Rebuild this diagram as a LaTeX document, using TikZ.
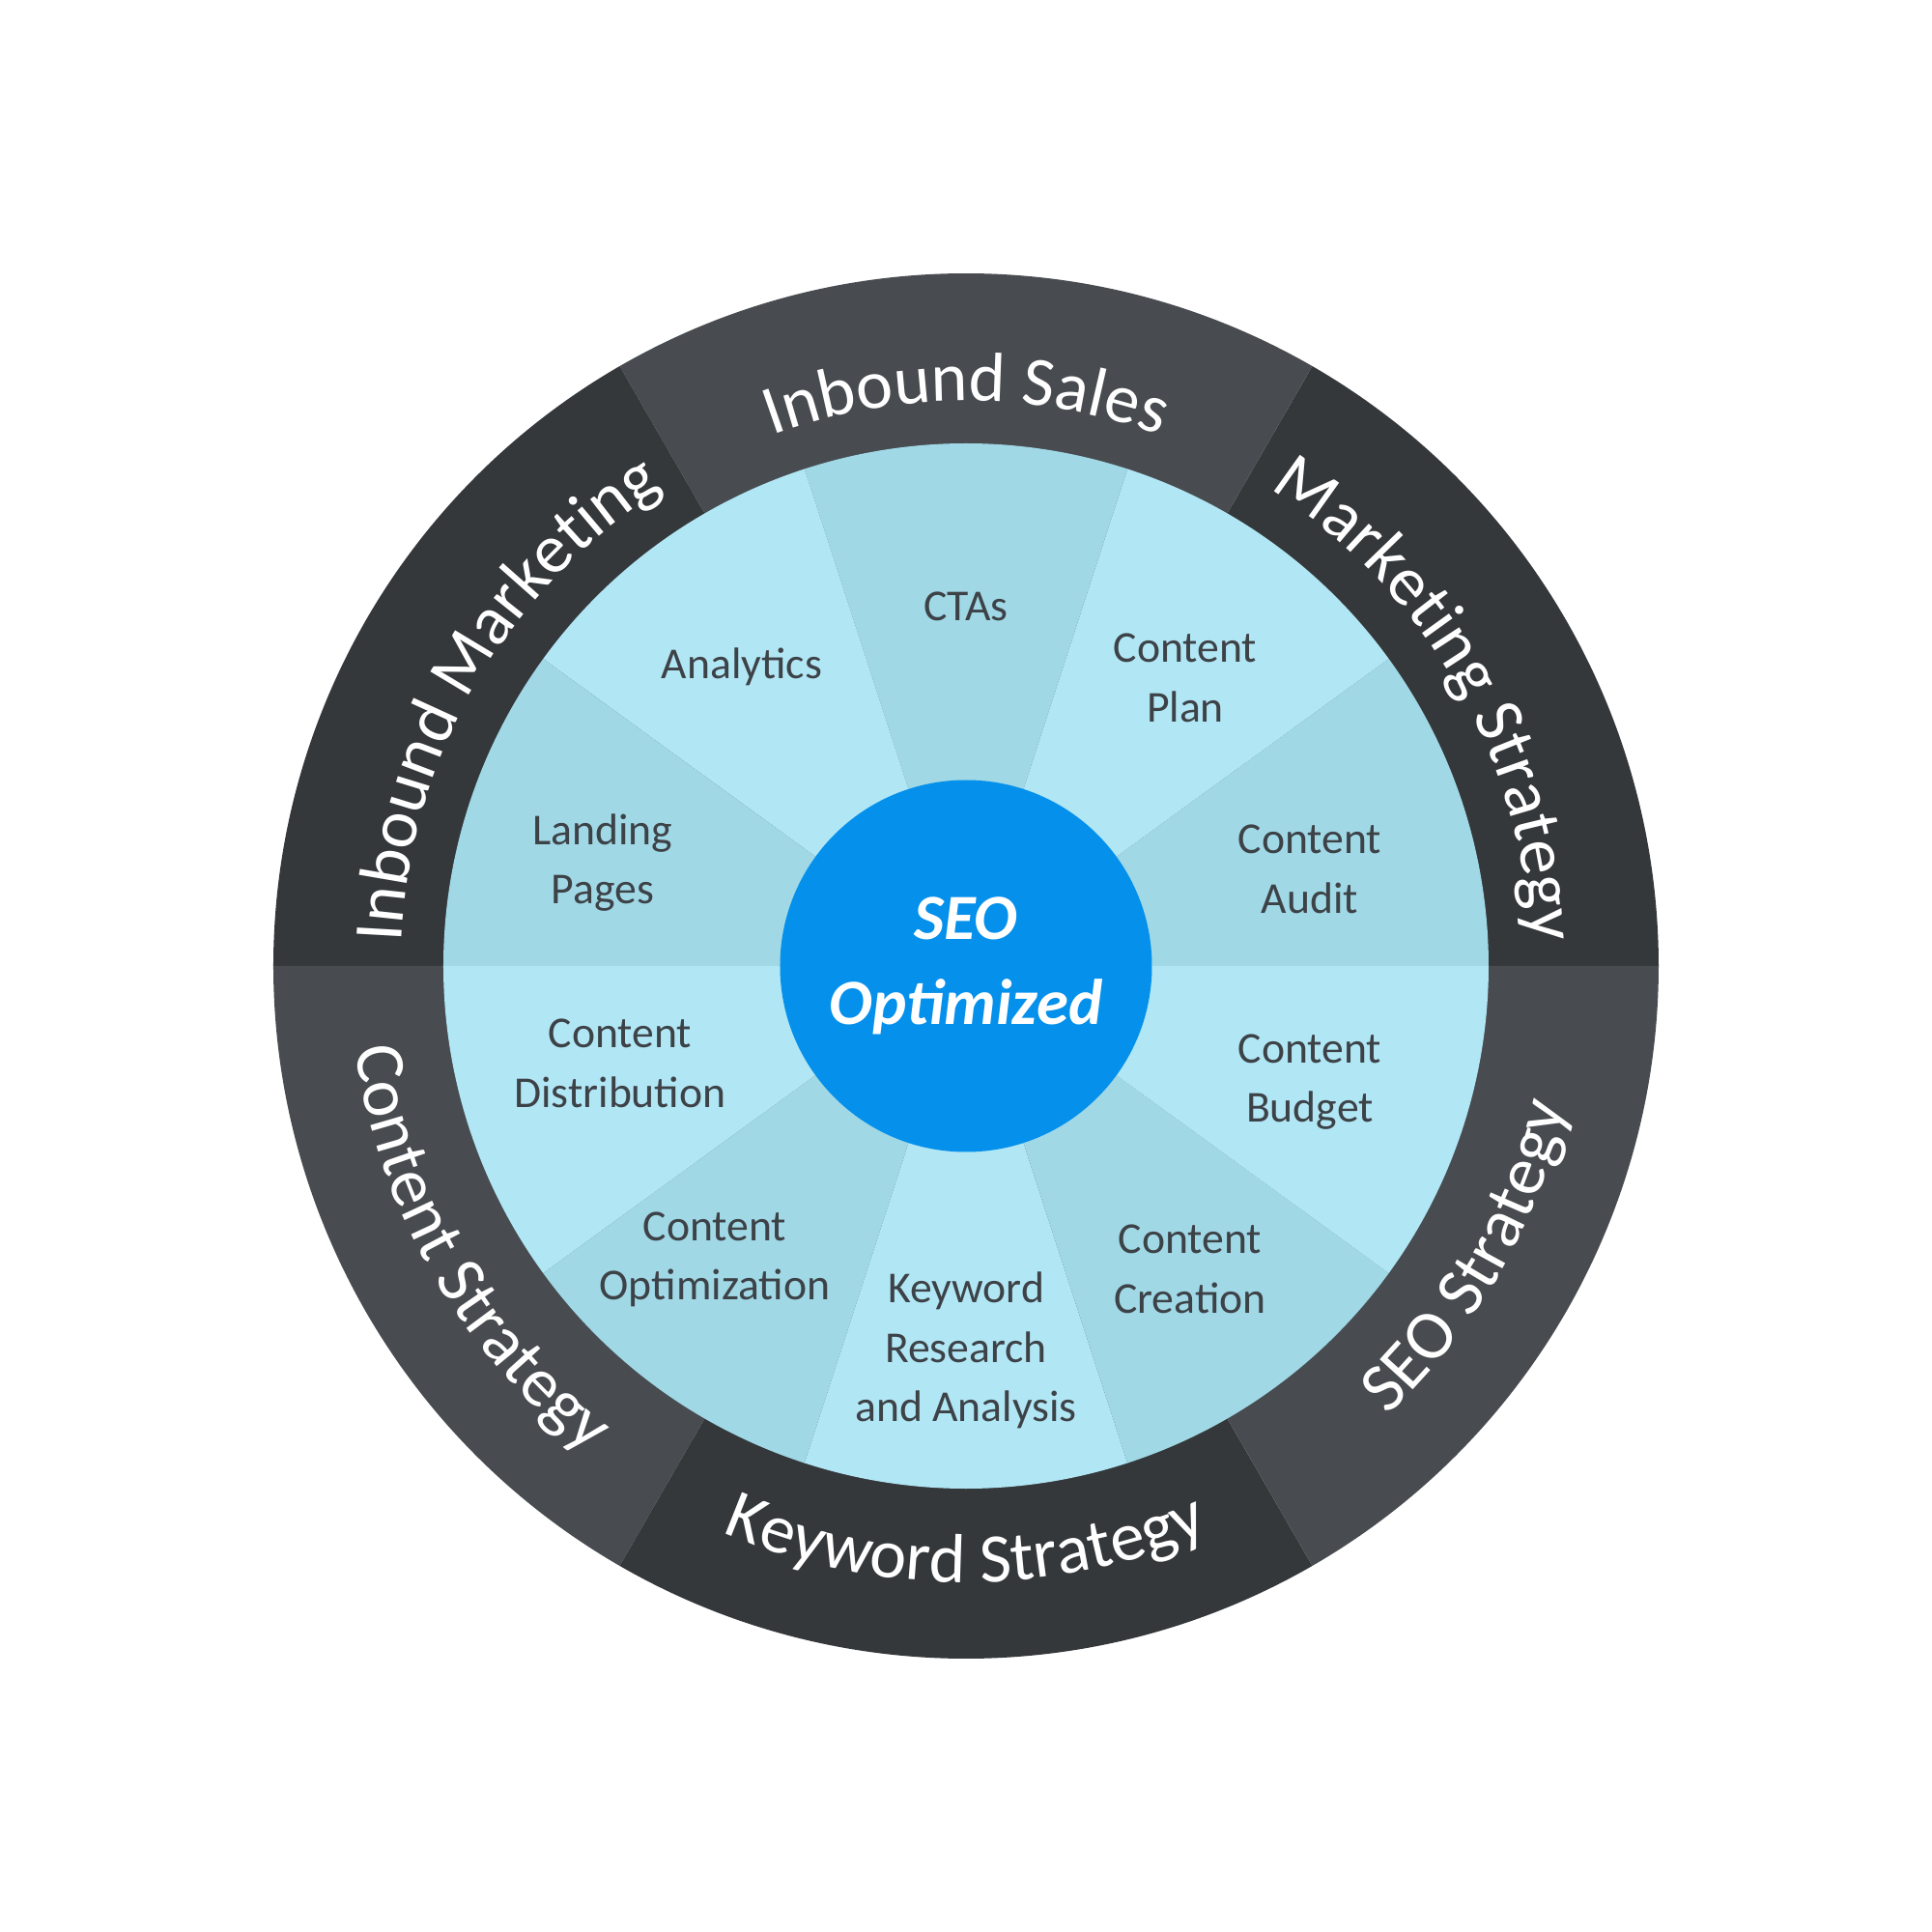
\documentclass[tikz,border=0pt]{standalone}
\usepackage{fontspec}
\setmainfont{Carlito}
\usetikzlibrary{decorations.text}

\definecolor{ringdark}{HTML}{35383B}
\definecolor{ringmid}{HTML}{484C50}
\definecolor{wedgelight}{HTML}{B1E6F5}
\definecolor{wedgedark}{HTML}{A0D8E6}
\definecolor{hub}{HTML}{0590EB}
\definecolor{labeltext}{HTML}{3D4247}

\tikzset{
  wedge/.style = {text=labeltext, align=center, font=\fontsize{13}{17.5}\selectfont},
  ringtext/.style = {decorate, decoration={text along path, text align=center,
      text={|\fontsize{20.5}{24}\selectfont\color{white}|#1}}}
}

\begin{document}
\begin{tikzpicture}
  \useasboundingbox (-10,-10) rectangle (10,10);
  % outer ring
  \foreach \a/\c in {0/ringdark, 60/ringmid, 120/ringdark, 180/ringmid, 240/ringdark, 300/ringmid}
    \fill[\c] (0,0) -- (\a:7.17) arc[start angle=\a, delta angle=60, radius=7.17] -- cycle;
  % inner wedges
  \foreach \i in {0,...,9} {
    \pgfmathsetmacro{\a}{36*\i}
    \pgfmathparse{int(mod(\i,2))}
    \ifnum\pgfmathresult=0 \def\c{wedgedark}\else\def\c{wedgelight}\fi
    \fill[\c] (0,0) -- (\a:5.41) arc[start angle=\a, delta angle=36, radius=5.41] -- cycle;
  }
  % hub
  \node[circle, fill=hub, minimum size=3.85cm, text=white, align=center,
        font=\fontsize{19}{25}\selectfont\bfseries\itshape] (seo) at (0,0) {SEO\\Optimized};
  % wedge labels
  \node[wedge] (analytics) at (-2.32, 3.10) {Analytics};
  \node[wedge] (ctas) at (0, 3.72) {CTAs};
  \node[wedge] (plan) at (2.27, 2.98) {Content\\Plan};
  \node[wedge] (audit) at (3.56, 1.00) {Content\\Audit};
  \node[wedge] (budget) at (3.56, -1.20) {Content\\Budget};
  \node[wedge] (creation) at (2.32, -3.14) {Content\\Creation};
  \node[wedge] (keyword) at (0, -3.98) {Keyword\\Research\\and Analysis};
  \node[wedge] (optim) at (-2.60, -3.04) {Content\\Optimization};
  \node[wedge] (distrib) at (-3.58, -1.01) {Content\\Distribution};
  \node[wedge] (landing) at (-3.76, 1.07) {Landing\\Pages};
  % ring labels
  \path[ringtext={Inbound Sales}] (120:5.85) arc[start angle=120, end angle=60, radius=5.85];
  \path[ringtext={Marketing Strategy}] (60:5.85) arc[start angle=60, end angle=0, radius=5.85];
  \path[ringtext={Inbound Marketing}] (180:5.85) arc[start angle=180, end angle=120, radius=5.85];
  \path[ringtext={Content Strategy}] (180:6.38) arc[start angle=180, end angle=240, radius=6.38];
  \path[ringtext={Keyword Strategy}] (240:6.38) arc[start angle=240, end angle=300, radius=6.38];
  \path[ringtext={SEO Strategy}] (300:6.38) arc[start angle=300, end angle=360, radius=6.38];
\end{tikzpicture}
\end{document}
